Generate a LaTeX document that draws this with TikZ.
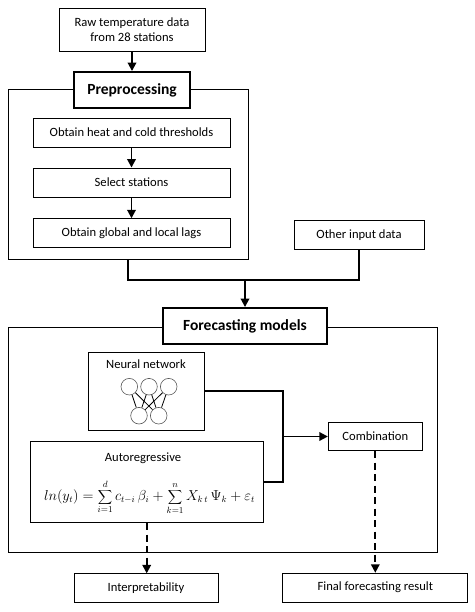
\documentclass[tikz,border=0pt]{standalone}
\usepackage{fontspec}
\setmainfont{Carlito}
\usetikzlibrary{arrows.meta}

\begin{document}
\begin{tikzpicture}[line cap=butt,line join=miter,x=1pt,y=-1pt,
		>={Triangle[length=8.5pt,width=8.5pt]},
		txt/.style={font=\fontsize{12.6}{15.5}\selectfont},
		box/.style={txt,draw,line width=0.9pt,fill=white,inner sep=0pt,align=center},
		headbox/.style={draw,line width=1.9pt,fill=white,inner sep=0pt,font=\fontsize{15.5}{18}\selectfont\bfseries},
		frame/.style={draw,line width=0.9pt},
		flow/.style={line width=1.9pt},
		dflow/.style={line width=1.9pt,dash pattern=on 7pt off 4.5pt},
		neuron/.style={circle,draw=black!65,line width=0.6pt,minimum size=16.6pt,inner sep=0pt}]
		\useasboundingbox (0,0) rectangle (474,612);
		% preprocessing part
		\draw [frame] (8,89) rectangle (248,259);
		\coordinate (pf) at (128,259);
		\node [box,minimum width=146pt,minimum height=43pt] (raw) at (132,29.5) {Raw temperature data\\from 28 stations};
		\node [headbox,minimum width=116pt,minimum height=36pt] (pre) at (132,90) {Preprocessing};
		\node [box,minimum width=197pt,minimum height=29pt] (heat) at (131.5,132.5) {Obtain heat and cold thresholds};
		\node [box,minimum width=197pt,minimum height=29pt] (sel) at (131.5,182.5) {Select stations};
		\node [box,minimum width=197pt,minimum height=28.5pt] (glob) at (131.5,233) {Obtain global and local lags};
		\node [box,minimum width=130pt,minimum height=29pt] (other) at (359,235) {Other input data};
		\draw [flow,->] (raw) -- (pre);
		\draw [flow,->] (heat) -- (sel);
		\draw [flow,->] (sel) -- (glob);
		\coordinate (jn) at (245,280);
		\draw [flow] (pf) |- (jn) -| (other.south);
		% forecasting part
		\draw [frame] (8,327) rectangle (437,552);
		\node [headbox,minimum width=164pt,minimum height=36pt] (fore) at (245,326) {Forecasting models};
		\draw [flow,->] (jn) -- (fore);
		\node [box,minimum width=116pt,minimum height=78pt] (nn) at (146,391.3) {};
		\node [txt] (nnlab) at (146,364.5) {Neural network};
		\node [neuron] (n1) at (129.3,386.7) {};
		\node [neuron] (n2) at (149,386.7) {};
		\node [neuron] (n3) at (168.7,386.7) {};
		\node [neuron] (m1) at (139,415.7) {};
		\node [neuron] (m2) at (158.7,415.7) {};
		\foreach \a in {n1,n2,n3}
			\foreach \b in {m1,m2}
				\draw [line width=0.8pt] (\a) -- (\b);
		\node [box,minimum width=233pt,minimum height=81.7pt] (ar) at (146.7,481.9) {};
		\node [txt] (arlab) at (143,458) {Autoregressive};
		\node [font=\fontsize{13.5}{16}\selectfont,inner sep=0pt] (eq) at (149.5,497) {$\displaystyle ln(y_t) = \sum_{i=1}^{d} c_{t-i}\,\beta_i + \sum_{k=1}^{n} X_{k\,t}\,\Psi_k + \varepsilon_t$};
		\node [box,minimum width=94pt,minimum height=28.4pt] (comb) at (375.3,436.5) {Combination};
		\coordinate (cj) at (283,436.5);
		\draw [flow] (nn.east) -| (cj) |- (ar.east);
		\draw [flow,->] (cj) -- (comb);
		% outputs
		\node [box,minimum width=144pt,minimum height=29pt] (interp) at (146,588.3) {Interpretability};
		\node [box,minimum width=185pt,minimum height=29pt] (final) at (375.3,587.7) {Final forecasting result};
		\draw [dflow,->] (ar.south) -- (ar.south |- interp.north);
		\draw [dflow,->] (comb) -- (final);
	\end{tikzpicture}
\end{document}
